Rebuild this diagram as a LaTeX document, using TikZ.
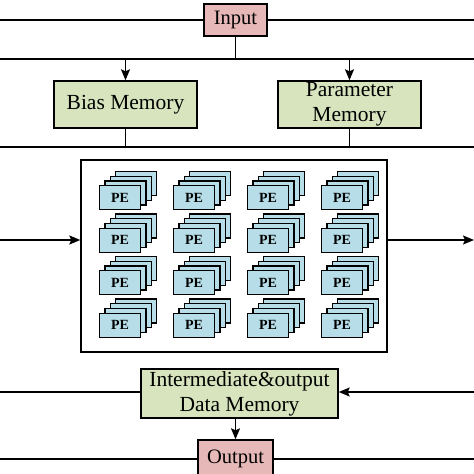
\documentclass[tikz,border=0pt]{standalone}
\usepackage{fontspec}
\setmainfont{Liberation Serif}
\usetikzlibrary{arrows.meta}
\definecolor{iopink}{HTML}{E6B9B8}
\definecolor{memgreen}{HTML}{D7E4BD}
\definecolor{peblue}{HTML}{B7DEE8}
\begin{document}
\begin{tikzpicture}[x=1pt,y=-1pt,
  line width=1.4pt,
  arr/.style={-{Stealth[length=11pt,width=9pt,inset=2pt]}},
  iobox/.style={draw, fill=iopink, inner sep=0pt, align=center, font=\fontsize{20.5}{24}\selectfont},
  membox/.style={draw, fill=memgreen, inner sep=0pt, align=center, font=\fontsize{21.5}{25}\selectfont, minimum width=143pt, minimum height=47pt},
  pebox/.style={draw, line width=1.2pt, fill=peblue, inner sep=0pt, minimum width=41pt, minimum height=24pt, anchor=north west, font=\fontsize{14}{16}\selectfont\bfseries},
  bigbox/.style={draw, fill=white, minimum width=306pt, minimum height=192pt, inner sep=0pt}
]
\useasboundingbox (0,0) rectangle (474,474);
\fill[white] (0,0) rectangle (474,474);

% Input
\node[iobox, minimum width=63pt, minimum height=32pt] (in) at (235.5,20) {Input};
\coordinate (inL) at (0,20);
\coordinate (inR) at (474,20);
\draw (inL) -- (in.west);
\draw (in.east) -- (inR);
\coordinate (busA) at (235.5,59);
\coordinate (busAL) at (0,59);
\coordinate (busAR) at (474,59);
\draw (in.south) -- (busA);
\draw (busAL) -- (busAR);

% memories
\node[membox] (bias) at (125.5,104.5) {Bias Memory};
\node[membox] (param) at (349.5,104.5) {Parameter\\Memory};
\draw[arr] (bias.north |- busA) -- (bias.north);
\draw[arr] (param.north |- busA) -- (param.north);
\coordinate (busBL) at (0,147);
\coordinate (busBR) at (474,147);
\draw (busBL) -- (busBR);
\draw (bias.south) -- (bias.south |- busBL);
\draw (param.south) -- (param.south |- busBL);

% PE array
\node[bigbox] (arr) at (234,256) {};
\coordinate (arrInL) at (0,240);
\coordinate (arrOutR) at (474,240);
\draw[arr] (arrInL) -- (arrInL -| arr.west);
\draw[arr] (arrOutR -| arr.east) -- (arrOutR);

\foreach \c/\fx in {1/99,2/173,3/247,4/321}{
  \foreach \r/\fy in {1/185,2/227.5,3/270,4/312.5}{
    \foreach \k in {3,2,1}{
      \node[pebox] (pe-\c-\r-\k) at ({\fx+5.3*\k},{\fy-4.7*\k}) {};
    }
    \node[pebox] (pe-\c-\r-0) at (\fx,\fy) {PE};
  }
}

% intermediate memory
\node[membox, minimum width=197pt, minimum height=49pt] (inter) at (239.5,393.5) {Intermediate\&output\\Data Memory};
\coordinate (interL) at (0,392);
\coordinate (interR) at (474,392);
\draw (interL) -- (interL -| inter.west);
\draw[arr] (interR) -- (interR -| inter.east);

% Output
\node[iobox, minimum width=75pt, minimum height=38pt] (out) at (235.5,459) {Output};
\coordinate (outL) at (0,459);
\coordinate (outR) at (474,459);
\draw (outL) -- (out.west);
\draw (out.east) -- (outR);
\draw[arr] (out.north |- inter.south) -- (out.north);
\end{tikzpicture}
\end{document}
